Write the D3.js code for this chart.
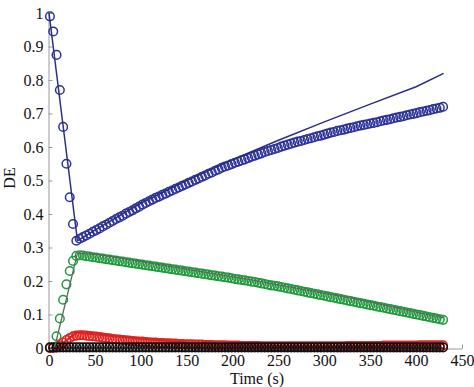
<!DOCTYPE html>
<html><head><meta charset="utf-8">
<script src="https://cdn.jsdelivr.net/npm/d3@7"></script>
<style>html,body{margin:0;padding:0;background:#fff;}svg{display:block;}</style>
</head><body>
<svg id="c" width="474" height="387"></svg>
<script>
// ---- DATA ----
const times = [1,4.6,8.2,11.8,15.4,19,22.6,26.2,29.8,33.4,37,40.6,44.2,47.8,51.4,55,58.6,62.2,65.8,69.4,73,76.6,80.2,83.8,87.4,91,94.6,98.2,101.8,105.4,109,112.6,116.2,119.8,123.4,127,130.6,134.2,137.8,141.4,145,148.6,152.2,155.8,159.4,163,166.6,170.2,173.8,177.4,181,184.6,188.2,191.8,195.4,199,202.6,206.2,209.8,213.4,217,220.6,224.2,227.8,231.4,235,238.6,242.2,245.8,249.4,253,256.6,260.2,263.8,267.4,271,274.6,278.2,281.8,285.4,289,292.6,296.2,299.8,303.4,307,310.6,314.2,317.8,321.4,325,328.6,332.2,335.8,339.4,343,346.6,350.2,353.8,357.4,361,364.6,368.2,371.8,375.4,379,382.6,386.2,389.8,393.4,397,400.6,404.2,407.8,411.4,415,418.6,422.2,425.8,429.4];

const blueMarks = [0.99,0.945,0.875,0.77,0.66,0.55,0.45,0.37,0.32,0.326,0.331,0.336,0.341,0.347,0.352,0.357,0.363,0.368,0.374,0.379,0.385,0.39,0.395,0.401,0.406,0.411,0.417,0.422,0.428,0.433,0.438,0.443,0.448,0.452,0.457,0.461,0.466,0.47,0.475,0.479,0.484,0.488,0.493,0.497,0.502,0.506,0.511,0.515,0.52,0.524,0.529,0.533,0.538,0.542,0.545,0.549,0.553,0.556,0.56,0.563,0.567,0.571,0.574,0.578,0.581,0.585,0.588,0.591,0.594,0.597,0.601,0.604,0.607,0.61,0.613,0.616,0.618,0.621,0.624,0.626,0.629,0.632,0.634,0.637,0.64,0.643,0.645,0.648,0.65,0.652,0.655,0.657,0.659,0.662,0.664,0.666,0.668,0.67,0.672,0.674,0.677,0.679,0.681,0.683,0.686,0.688,0.69,0.692,0.695,0.697,0.699,0.701,0.704,0.706,0.708,0.71,0.713,0.715,0.717,0.72];

const greenMarks = [0,0.002,0.035,0.088,0.144,0.19,0.23,0.26,0.275,0.277,0.276,0.274,0.273,0.271,0.27,0.268,0.267,0.265,0.264,0.262,0.261,0.259,0.258,0.256,0.255,0.253,0.252,0.25,0.249,0.247,0.246,0.244,0.243,0.241,0.24,0.238,0.237,0.235,0.234,0.232,0.231,0.229,0.228,0.226,0.225,0.223,0.222,0.22,0.219,0.217,0.216,0.214,0.213,0.211,0.21,0.208,0.206,0.205,0.203,0.202,0.2,0.198,0.197,0.195,0.193,0.191,0.189,0.187,0.186,0.184,0.182,0.18,0.178,0.176,0.174,0.172,0.17,0.168,0.166,0.164,0.162,0.16,0.158,0.156,0.154,0.152,0.15,0.148,0.146,0.144,0.142,0.14,0.138,0.136,0.134,0.132,0.13,0.128,0.126,0.124,0.122,0.12,0.118,0.116,0.114,0.112,0.11,0.108,0.106,0.104,0.102,0.1,0.098,0.096,0.094,0.092,0.09,0.088,0.086,0.084];

const redMarks = [0,0,0.002,0.008,0.016,0.024,0.03,0.035,0.037,0.038,0.038,0.037,0.036,0.035,0.034,0.033,0.031,0.03,0.029,0.027,0.026,0.025,0.024,0.023,0.022,0.021,0.02,0.019,0.019,0.018,0.017,0.016,0.016,0.015,0.015,0.014,0.014,0.013,0.013,0.012,0.012,0.011,0.011,0.011,0.01,0.01,0.01,0.009,0.009,0.009,0.008,0.008,0.008,0.008,0.007,0.007,0.007,0.007,0.006,0.006,0.006,0.006,0.006,0.006,0.005,0.005,0.005,0.005,0.005,0.005,0.005,0.005,0.005,0.005,0.005,0.005,0.005,0.005,0.005,0.005,0.005,0.005,0.005,0.005,0.005,0.005,0.005,0.005,0.005,0.005,0.006,0.006,0.006,0.006,0.006,0.006,0.006,0.006,0.006,0.006,0.006,0.007,0.007,0.007,0.007,0.007,0.007,0.007,0.007,0.007,0.007,0.007,0.008,0.008,0.008,0.008,0.008,0.008,0.008,0.008];

const blackMarks = [0.002,0.002,0.002,0.002,0.002,0.002,0.002,0.002,0.002,0.002,0.002,0.002,0.002,0.002,0.002,0.002,0.002,0.002,0.002,0.002,0.002,0.002,0.002,0.002,0.002,0.002,0.002,0.002,0.002,0.002,0.002,0.002,0.002,0.002,0.002,0.002,0.002,0.002,0.002,0.002,0.002,0.002,0.002,0.002,0.002,0.002,0.002,0.002,0.002,0.002,0.002,0.002,0.002,0.002,0.002,0.002,0.002,0.002,0.002,0.002,0.002,0.002,0.002,0.002,0.002,0.002,0.002,0.002,0.002,0.002,0.002,0.002,0.002,0.002,0.002,0.002,0.002,0.002,0.002,0.002,0.002,0.002,0.002,0.002,0.002,0.002,0.002,0.002,0.002,0.002,0.002,0.002,0.002,0.002,0.002,0.002,0.002,0.002,0.002,0.002,0.002,0.002,0.002,0.002,0.002,0.002,0.002,0.002,0.002,0.002,0.002,0.002,0.002,0.002,0.002,0.002,0.002,0.002,0.002,0.002];

// model lines
const blueLineT = [0,31,50,100,150,200,250,300,350,400,430];
const blueLineV = [1.0,0.32,0.352,0.432,0.5,0.562,0.62,0.675,0.728,0.78,0.82];
const greenLineT = [6,31,55,218,330,430];
const greenLineV = [0,0.283,0.278,0.205,0.148,0.09];
const redLineT = [8,30,60,100,150,200,250,300,350,400,430];
const redLineV = [0,0.046,0.038,0.027,0.017,0.01,0.006,0.004,0.005,0.009,0.013];
const blackLineT = [0,430];
const blackLineV = [0,0];

const xTicks = [0,50,100,150,200,250,300,350,400,450];
const yTicks = [0,0.1,0.2,0.3,0.4,0.5,0.6,0.7,0.8,0.9,1];

// ---- DRAW ----
const svg = d3.select("#c");
const x = d3.scaleLinear().domain([0,450]).range([49,462]);
const y = d3.scaleLinear().domain([0,1]).range([348,13]);
const FONT = '"Liberation Serif"';
const axisCol = "#9a9a9a";

const gx = svg.append("g").attr("transform","translate(0,348.5)")
  .call(d3.axisBottom(x).tickValues(xTicks).tickSizeInner(-4).tickSizeOuter(0).tickPadding(6).tickFormat(d3.format("d")));
gx.attr("font-family",FONT).attr("font-size",16);
gx.select(".domain").attr("stroke",axisCol);
gx.selectAll(".tick line").attr("stroke",axisCol);
gx.selectAll("text").style("font-family",FONT).style("font-size","16px").attr("fill","#111");

const gy = svg.append("g").attr("transform","translate(48.5,0)")
  .call(d3.axisLeft(y).tickValues(yTicks).tickSizeInner(-4).tickSizeOuter(0).tickPadding(5).tickFormat(d => d===0?"0":d===1?"1":d3.format(".1f")(d)));
gy.attr("font-family",FONT).attr("font-size",16);
gy.select(".domain").attr("stroke",axisCol);
gy.selectAll(".tick line").attr("stroke",axisCol);
gy.selectAll("text").style("font-family",FONT).style("font-size","16px").attr("fill","#111");

svg.append("text").attr("x",257).attr("y",384).attr("text-anchor","middle")
  .style("font-family",FONT).style("font-size","16px").attr("fill","#111").text("Time (s)");
svg.append("text").attr("transform","translate(15,178) rotate(-90)").attr("text-anchor","middle")
  .style("font-family",FONT).style("font-size","16px").attr("fill","#111").text("DE");

function marks(vals,color){
  svg.append("g").selectAll("circle").data(vals).join("circle")
    .attr("cx",(d,i)=>x(times[i])).attr("cy",d=>y(d)).attr("r",4.3)
    .attr("fill","none").attr("stroke",color).attr("stroke-width",1.5);
}
function line(ts,vs,color,w){
  svg.append("path").datum(ts.map((t,i)=>[t,vs[i]]))
    .attr("d",d3.line().x(d=>x(d[0])).y(d=>y(d[1])))
    .attr("fill","none").attr("stroke",color).attr("stroke-width",w);
}
marks(greenMarks,"#1f9a3c");
marks(blueMarks,"#2c3398");
marks(redMarks,"#e0201e");
line(redLineT,redLineV,"#e0201e",2);
marks(blackMarks,"#111111");
line(greenLineT,greenLineV,"#5a6a5c",1.3);
line(blueLineT,blueLineV,"#2a2e88",1.5);
line(blackLineT,blackLineV,"#111111",1);
</script>
</body></html>
